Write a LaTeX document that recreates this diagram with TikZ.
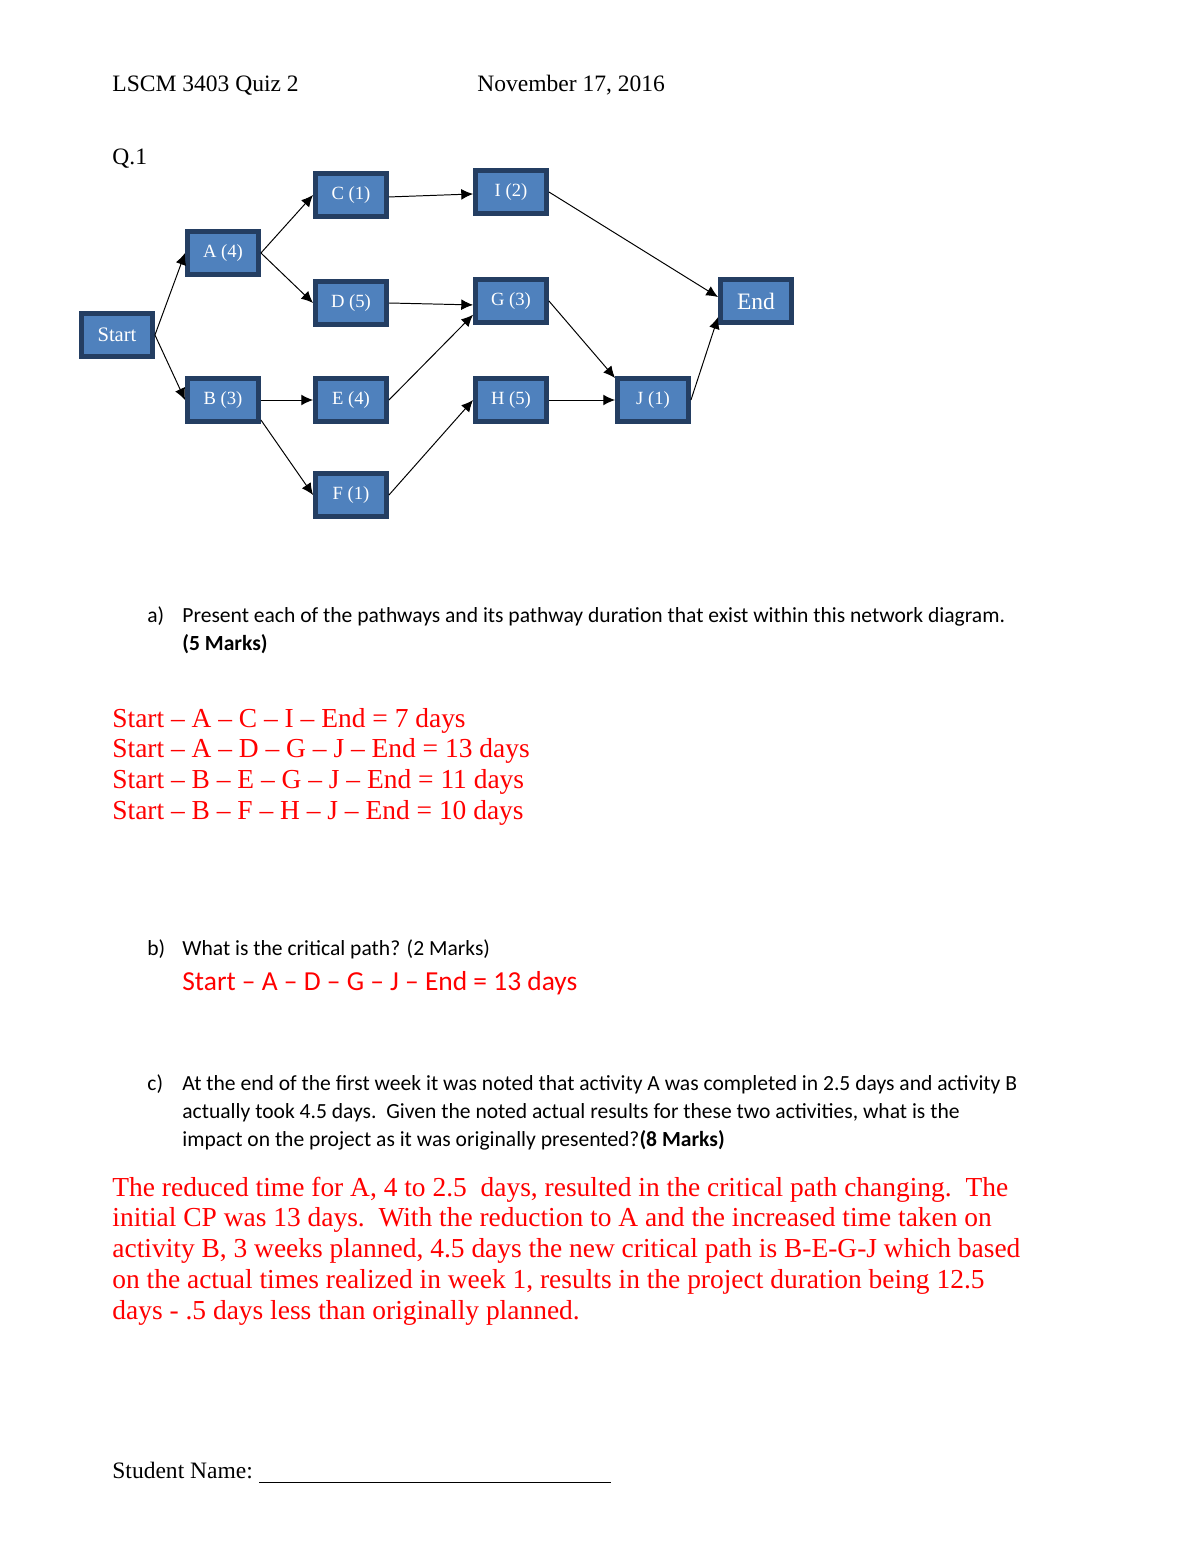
\documentclass[tikz,border=0pt]{standalone}
\usepackage{fontspec}
\setmainfont{Liberation Serif}
\newfontfamily\calibri{Carlito}
\usetikzlibrary{arrows.meta, positioning}
\usepackage{xcolor}
\definecolor{boxfill}{RGB}{79,129,189}
\definecolor{boxline}{RGB}{36,62,98}
\newcommand{\textrows}[1]{\begin{tabular}[t]{@{}l@{}}#1\end{tabular}}

\tikzset{
  act/.style={draw=boxline, line width=2.5pt, fill=boxfill, text=white, inner sep=0pt,
    minimum width=36.2pt, minimum height=21.9pt, font=\fontsize{9.5}{10}\selectfont},
  link/.style={-{Latex[length=6pt,width=5.5pt]}, line width=0.5pt},
  plain/.style={anchor=base west, inner sep=0pt, font=\fontsize{12}{14}\selectfont},
  question/.style={anchor=base west, inner sep=0pt, font=\calibri\fontsize{11}{14.3}\selectfont},
  answer/.style={anchor=base west, inner sep=0pt, text=red, font=\fontsize{14}{15.8}\selectfont}
}

\begin{document}
\begin{tikzpicture}[x=0.51pt, y=-0.51pt]
  \useasboundingbox[fill=white] (0,0) rectangle (1200,1553);
  % Kopf
  \node[plain] (title) at (112,92) {LSCM 3403 Quiz 2};
  \node[plain] (date) at (477,92) {November 17, 2016};
  \node[plain] (q1) at (112,165) {Q.1};
  % Netzplan
  \node[act, font=\fontsize{10.5}{11}\selectfont] (start) at (117,335) {Start};
  \node[act] (a) at (223,253) {A (4)};
  \node[act] (b) at (223,400) {B (3)};
  \node[act] (c) at (351,195) {C (1)};
  \node[act] (d) at (351,303) {D (5)};
  \node[act] (e) at (351,400) {E (4)};
  \node[act] (f) at (351,495) {F (1)};
  \node[act] (i) at (511,192) {I (2)};
  \node[act] (g) at (511,301) {G (3)};
  \node[act] (h) at (511,400) {H (5)};
  \node[act] (j) at (653,400) {J (1)};
  \node[act, font=\fontsize{12}{13}\selectfont] (end) at (756,301) {End};
  \draw[link] (start.east) -- (a.west);
  \draw[link] (start.east) -- (b.west);
  \draw[link] (a.east) -- (c.west);
  \draw[link] (a.east) -- (d.west);
  \draw[link] ([yshift=-1pt]c.east) -- ([yshift=-1pt]i.west);
  \draw[link] (d.east) -- ([yshift=-2pt]g.west);
  \draw[link] (b.east) -- (e.west);
  \draw[link] ([yshift=2pt]b.south east) -- (f.west);
  \draw[link] (e.east) -- ([yshift=-7pt]g.west);
  \draw[link] (f.east) -- (h.west);
  \draw[link] (i.east) -- ([yshift=2pt]end.west);
  \draw[link] (g.east) -- ([yshift=-1pt]j.north west);
  \draw[link] (h.east) -- (j.west);
  \draw[link] (j.east) -- ([yshift=4pt]end.south west);
  % a)
  \node[question] (qa) at (147,622) {a)};
  \node[question] (qatext) at (182,622) {\textrows{Present each of the pathways and its pathway duration that exist within this network diagram.\\\textbf{(5 Marks)}}};
  \node[answer] (ansa) at (112,727) {\textrows{Start – A – C – I – End = 7 days\\
    Start – A – D – G – J – End = 13 days\\
    Start – B – E – G – J – End = 11 days\\
    Start – B – F – H – J – End = 10 days}};
  % b)
  \node[question] (qb) at (147,955) {b)};
  \node[question] (qbtext) at (182,955) {What is the critical path? (2 Marks)};
  \node[answer, font=\calibri\fontsize{14}{16}\selectfont] (ansb) at (182,990) {Start – A – D – G – J – End = 13 days};
  % c)
  \node[question] (qc) at (147,1090) {c)};
  \node[question] (qctext) at (182,1090) {\textrows{At the end of the first week it was noted that activity A was completed in 2.5 days and activity B\\
    actually took 4.5 days.\ \ Given the noted actual results for these two activities, what is the\\
    impact on the project as it was originally presented?\textbf{(8 Marks)}}};
  \node[answer] (ansc) at (112,1196) {\textrows{The reduced time for A, 4 to 2.5\ \ days, resulted in the critical path changing.\ \ The\\
    initial CP was 13 days.\ \ With the reduction to A and the increased time taken on\\
    activity B, 3 weeks planned, 4.5 days the new critical path is B-E-G-J which based\\
    on the actual times realized in week 1, results in the project duration being 12.5\\
    days - .5 days less than originally planned.}};
  % Name
  \node[plain] (name) at (112,1478) {Student Name:};
  \draw[line width=0.5pt] (259,1482) -- (611,1482);
\end{tikzpicture}
\end{document}
